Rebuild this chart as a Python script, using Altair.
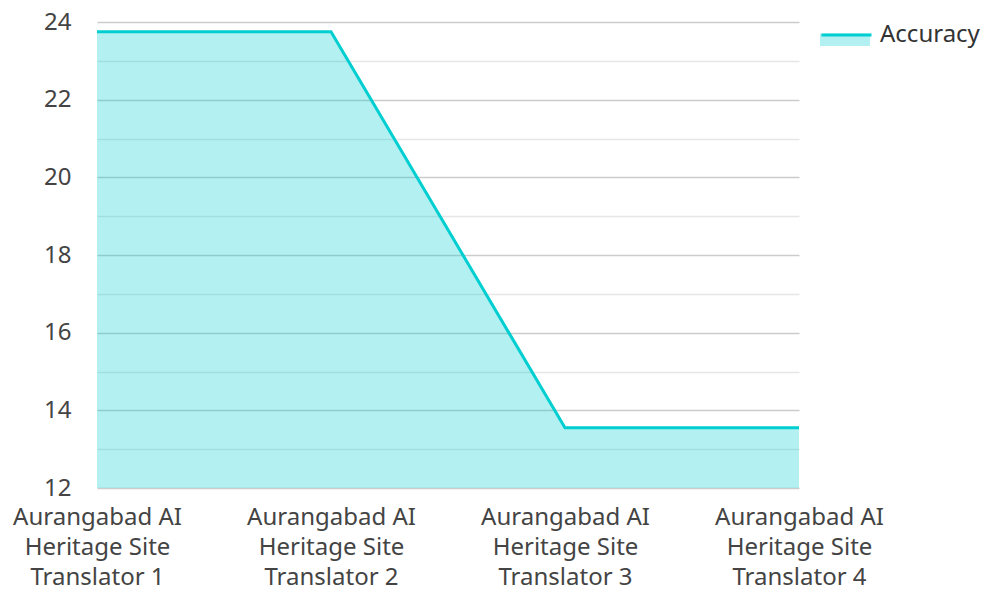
import altair as alt
import pandas as pd

categories = [
    "Aurangabad AI Heritage Site Translator 1",
    "Aurangabad AI Heritage Site Translator 2",
    "Aurangabad AI Heritage Site Translator 3",
    "Aurangabad AI Heritage Site Translator 4",
]
accuracy = [23.75, 23.75, 13.55, 13.55]
series_name = "Accuracy"
y_ticks = list(range(12, 25))
y_min = 12

df = pd.DataFrame({"model": categories, "value": accuracy, "series": [series_name] * len(categories)})

TEAL = "#00CED1"
FONT = "Noto Sans"
TXT = "#444444"

x_enc = alt.X(
    "model:N",
    sort=categories,
    scale=alt.Scale(type="point", padding=0),
    axis=alt.Axis(
        title=None, domain=False, ticks=False, grid=False, labelAngle=0,
        labelExpr="[slice(datum.label,0,13), slice(datum.label,14,27), slice(datum.label,28)]",
        labelFont=FONT, labelFontSize=24, labelColor=TXT, labelLineHeight=30,
        labelPadding=17, labelBaseline="top",
    ),
)
y_enc = alt.Y(
    "value:Q",
    scale=alt.Scale(domain=[12, 24], nice=False, zero=False),
    axis=alt.Axis(
        title=None, domain=False, ticks=False, values=y_ticks,
        labelExpr="datum.value % 2 === 0 ? datum.label : ''",
        gridColor={"condition": {"test": "datum.value % 2 === 0", "value": "#cccccc"}, "value": "#e6e6e6"},
        gridWidth=1.5,
        labelFont=FONT, labelFontSize=24, labelColor=TXT, labelPadding=26,
    ),
)

base = alt.Chart(df)

area = base.mark_area(fillOpacity=0.3, strokeWidth=0).encode(
    x=x_enc, y=y_enc, y2=alt.datum(y_min),
    fill=alt.Fill("series:N", scale=alt.Scale(domain=[series_name], range=[TEAL]), legend=alt.Legend(
        title=None, orient="none", legendX=723, legendY=-13.5, padding=0,
        symbolType="M-1,0 L1,0 L1,0.5 L-1,0.5 Z", symbolSize=2500,
        symbolOpacity=0.3, symbolStrokeWidth=0, labelExpr="''",
        labelFont=FONT, labelFontSize=24, labelOffset=7,
    )),
)
line = base.mark_line(strokeWidth=3).encode(
    x=x_enc, y=y_enc,
    stroke=alt.Stroke("series:N", scale=alt.Scale(range=[TEAL]), legend=alt.Legend(
        title=None, orient="none", legendX=723, legendY=-13.5, padding=0,
        symbolType="stroke", symbolSize=2500, symbolStrokeWidth=3,
        labelFont=FONT, labelFontSize=24, labelColor="#333333", labelOffset=7,
    )),
)

chart = alt.layer(area, line).properties(
    width=702, height=466,
    autosize=alt.AutoSizeParams(type="none"),
    padding={"left": 89, "top": 14, "right": 182, "bottom": 98},
    background="white",
).configure_view(stroke=None)

chart.save("out.html", embed_options={"renderer": "svg", "actions": False})
